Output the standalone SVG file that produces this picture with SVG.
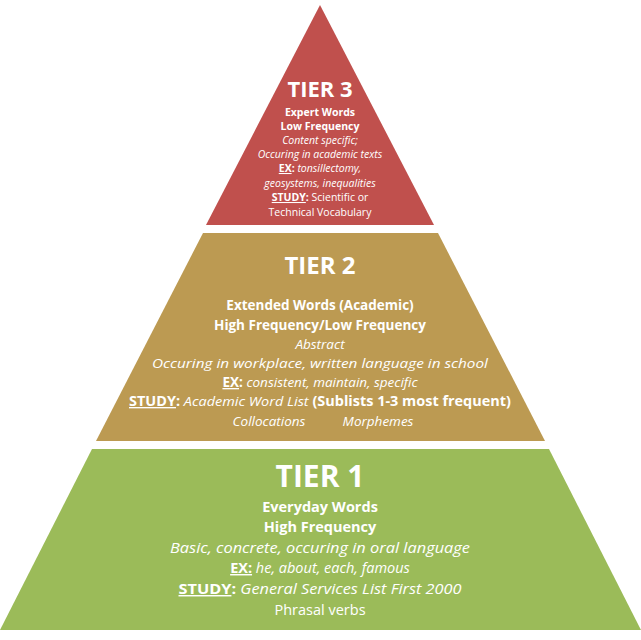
<svg xmlns="http://www.w3.org/2000/svg" width="641" height="640" viewBox="0 0 641 640">
<style>
text{font-family:"Open Sans","Liberation Sans",sans-serif;fill:#fff;text-anchor:middle}
.h{font-weight:bold}
.b{font-weight:bold}
.i{font-style:italic}
.u{text-decoration:underline;font-weight:bold}
.t3{font-size:10.5px}
.t2{font-size:13.5px}
.t1{font-size:14.5px}
</style>
<rect width="641" height="640" fill="#fff"/>
<g id="tier3">
<polygon points="320,5 434,225 206,225" fill="#c0504d"/>
<text x="320" y="97" class="h" font-size="22">TIER 3</text>
<text x="320" y="116" class="t3 b">Expert Words</text>
<text x="320" y="130" class="t3 b">Low Frequency</text>
<text x="320" y="144" class="t3 i">Content specific;</text>
<text x="320" y="158" class="t3 i">Occuring in academic texts</text>
<text x="320" y="172" class="t3"><tspan class="u">EX</tspan><tspan class="b">:</tspan> <tspan class="i">tonsillectomy,</tspan></text>
<text x="320" y="187" class="t3 i">geosystems, inequalities</text>
<text x="320" y="201" class="t3"><tspan class="u">STUDY</tspan><tspan class="b">:</tspan> Scientific or</text>
<text x="320" y="216" class="t3">Technical Vocabulary</text>
</g>
<g id="tier2">
<polygon points="203,233 438,233 545,441 96,441" fill="#bc9a52"/>
<text x="320" y="274" class="h" font-size="24">TIER 2</text>
<text x="320" y="310" class="t2 b">Extended Words (Academic)</text>
<text x="320" y="330" class="t2 b">High Frequency/Low Frequency</text>
<text x="320" y="349" class="t2 i">Abstract</text>
<text x="320" y="368" class="t2 i" textLength="336" lengthAdjust="spacingAndGlyphs">Occuring in workplace, written language in school</text>
<text x="320" y="387" class="t2"><tspan class="u">EX</tspan><tspan class="b">:</tspan> <tspan class="i">consistent, maintain, specific</tspan></text>
<text x="320" y="406" class="t2" textLength="382" lengthAdjust="spacingAndGlyphs"><tspan class="u">STUDY</tspan><tspan class="b">:</tspan> <tspan class="i">Academic Word List</tspan> <tspan class="b">(Sublists 1-3 most frequent)</tspan></text>
<text x="269" y="426" class="t2 i">Collocations</text>
<text x="378" y="426" class="t2 i">Morphemes</text>
</g>
<g id="tier1">
<polygon points="92,449 549,449 641,630 0,630" fill="#9bbb59"/>
<text x="320" y="487" class="h" font-size="30">TIER 1</text>
<text x="320" y="512" class="t1 b">Everyday Words</text>
<text x="320" y="532" class="t1 b">High Frequency</text>
<text x="320" y="553" class="t1 i" textLength="300" lengthAdjust="spacingAndGlyphs">Basic, concrete, occuring in oral language</text>
<text x="320" y="573" class="t1"><tspan class="u">EX:</tspan> <tspan class="i">he, about, each, famous</tspan></text>
<text x="320" y="594" class="t1" textLength="283" lengthAdjust="spacingAndGlyphs"><tspan class="u">STUDY</tspan><tspan class="b">:</tspan> <tspan class="i">General Services List First 2000</tspan></text>
<text x="320" y="615" class="t1">Phrasal verbs</text>
</g>
<g id="connectors"/>
</svg>
